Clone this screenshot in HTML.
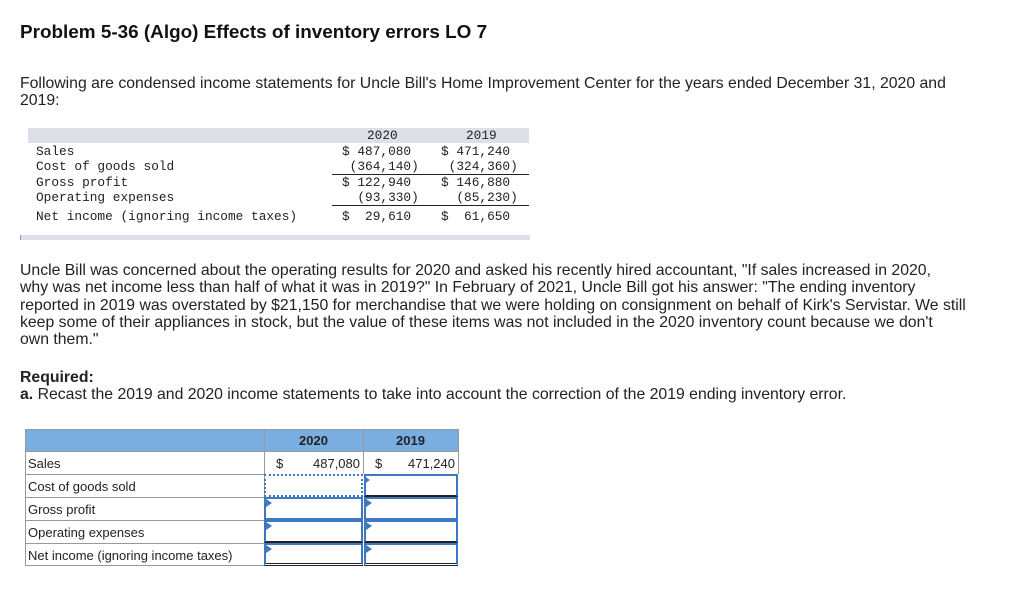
<!DOCTYPE html>
<html><head><meta charset="utf-8"><style>
body{margin:0;width:1024px;height:596px;background:#fff;position:relative;font-family:"Liberation Sans",sans-serif;color:#222;overflow:hidden}
.a{position:absolute;white-space:nowrap}
.p{font-size:15.8px;line-height:17.3px}
.m{font-family:"Liberation Mono",monospace;font-size:12.8px;color:#222}
.t2{position:absolute;font-size:13px;white-space:nowrap}
.cell{position:absolute;box-sizing:border-box}
.inp{position:absolute;box-sizing:border-box;border:2px solid #3d78c0;background:#fff}
.tri{position:absolute;width:0;height:0;border-top:4px solid transparent;border-bottom:4px solid transparent;border-left:6px solid #3d78c0}
</style></head><body>
<div class="a" style="left:20px;top:22px;font-size:18.9px;font-weight:bold;color:#111">Problem 5-36 (Algo) Effects of inventory errors LO 7</div>
<div class="a p" style="left:20px;top:75px">Following are condensed income statements for Uncle Bill's Home Improvement Center for the years ended December 31, 2020 and<br>2019:</div>

<div>
<div class="a" style="left:28px;top:128px;width:501px;height:15px;background:#dde0e8"></div>
<div class="a m" style="left:367px;top:128px">2020</div>
<div class="a m" style="left:466px;top:128px">2019</div>
<div class="a m" style="left:36px;top:144px">Sales</div>
<div class="a m" style="left:36px;top:159px">Cost of goods sold</div>
<div class="a m" style="left:36px;top:175px">Gross profit</div>
<div class="a m" style="left:36px;top:190px">Operating expenses</div>
<div class="a m" style="left:36px;top:209px">Net income (ignoring income taxes)</div>
<div class="a m" style="left:342px;top:144px">$ 487,080</div>
<div class="a m" style="left:342px;top:159px">&nbsp;(364,140)</div>
<div class="a m" style="left:342px;top:175px">$ 122,940</div>
<div class="a m" style="left:342px;top:190px">&nbsp;&nbsp;(93,330)</div>
<div class="a m" style="left:342px;top:209px">$&nbsp;&nbsp;29,610</div>
<div class="a m" style="left:441px;top:144px">$ 471,240</div>
<div class="a m" style="left:441px;top:159px">&nbsp;(324,360)</div>
<div class="a m" style="left:441px;top:175px">$ 146,880</div>
<div class="a m" style="left:441px;top:190px">&nbsp;&nbsp;(85,230)</div>
<div class="a m" style="left:441px;top:209px">$&nbsp;&nbsp;61,650</div>
<div class="a" style="left:332px;top:174px;width:197px;height:1px;background:#222"></div>
<div class="a" style="left:332px;top:205px;width:197px;height:1px;background:#222"></div>
<div class="a" style="left:20px;top:235px;width:509px;height:5px;background:#dde0e8;border-left:1px solid #999"></div>
</div>

<div class="a p" style="left:20px;top:262px">Uncle Bill was concerned about the operating results for 2020 and asked his recently hired accountant, "If sales increased in 2020,<br>why was net income less than half of what it was in 2019?" In February of 2021, Uncle Bill got his answer: "The ending inventory<br>reported in 2019 was overstated by $21,150 for merchandise that we were holding on consignment on behalf of Kirk's Servistar. We still<br>keep some of their appliances in stock, but the value of these items was not included in the 2020 inventory count because we don't<br>own them."</div>
<div class="a p" style="left:20px;top:369px;font-weight:bold">Required:</div>
<div class="a p" style="left:20px;top:386px"><b>a.</b> Recast the 2019 and 2020 income statements to take into account the correction of the 2019 ending inventory error.</div>

<div>
<div class="cell" style="left:25px;top:429px;width:434px;height:23px;background:#7aaee0;border:1px solid #999"></div>
<div class="cell" style="left:264px;top:429px;width:1px;height:137px;background:#999"></div>
<div class="cell" style="left:363px;top:429px;width:1px;height:45px;background:#999"></div>
<div class="t2" style="left:264px;top:433px;width:99px;text-align:center;font-weight:bold">2020</div>
<div class="t2" style="left:363px;top:433px;width:95px;text-align:center;font-weight:bold">2019</div>
<div class="cell" style="left:25px;top:452px;width:1px;height:114px;background:#999"></div>
<div class="cell" style="left:25px;top:565px;width:240px;height:1px;background:#999"></div>
<div class="cell" style="left:25px;top:474px;width:240px;height:1px;background:#999"></div>
<div class="cell" style="left:25px;top:497px;width:240px;height:1px;background:#999"></div>
<div class="cell" style="left:25px;top:520px;width:240px;height:1px;background:#999"></div>
<div class="cell" style="left:25px;top:543px;width:240px;height:1px;background:#999"></div>
<div class="cell" style="left:458px;top:452px;width:1px;height:22px;background:#999"></div>
<div class="t2" style="left:28px;top:456px">Sales</div>
<div class="t2" style="left:28px;top:479px">Cost of goods sold</div>
<div class="t2" style="left:28px;top:502px">Gross profit</div>
<div class="t2" style="left:28px;top:525px">Operating expenses</div>
<div class="t2" style="left:28px;top:548px">Net income (ignoring income taxes)</div>
<div class="t2" style="left:276px;top:456px">$</div>
<div class="t2" style="left:300px;top:456px;width:60px;text-align:right">487,080</div>
<div class="t2" style="left:375px;top:456px">$</div>
<div class="t2" style="left:396px;top:456px;width:59px;text-align:right">471,240</div>
<div class="cell" style="left:264px;top:474px;width:99px;height:23px;border:2px dotted #3d78c0"></div>
<div class="inp" style="left:364px;top:474px;width:94px;height:23px;border-bottom:2px solid #222"></div>
<div class="inp" style="left:264px;top:497px;width:99px;height:23px"></div>
<div class="inp" style="left:364px;top:497px;width:94px;height:23px"></div>
<div class="inp" style="left:264px;top:520px;width:99px;height:23px;border-bottom:2px solid #222"></div>
<div class="inp" style="left:364px;top:520px;width:94px;height:23px;border-bottom:2px solid #222"></div>
<div class="inp" style="left:264px;top:543px;width:99px;height:23px;border-bottom:3px double #222"></div>
<div class="inp" style="left:364px;top:543px;width:94px;height:23px;border-bottom:3px double #222"></div>
<div class="tri" style="left:364px;top:476px"></div>
<div class="tri" style="left:266px;top:499px"></div>
<div class="tri" style="left:366px;top:499px"></div>
<div class="tri" style="left:266px;top:522px"></div>
<div class="tri" style="left:366px;top:522px"></div>
<div class="tri" style="left:266px;top:545px"></div>
<div class="tri" style="left:366px;top:545px"></div>
</div>
</body></html>
